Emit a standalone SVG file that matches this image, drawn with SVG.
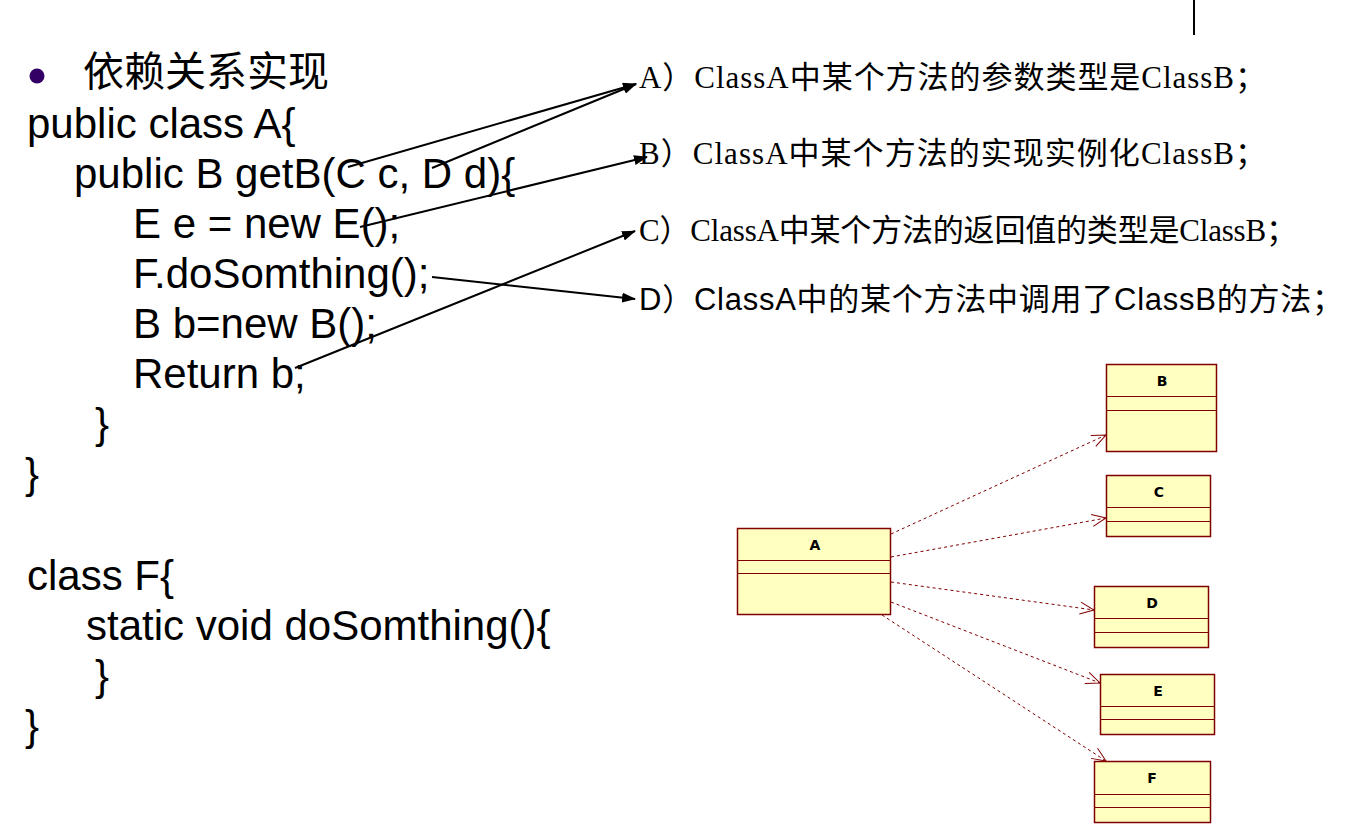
<svg xmlns="http://www.w3.org/2000/svg" width="1362" height="837" viewBox="0 0 1362 837">
<defs>
<style>
.code{font-family:"Liberation Sans",Arial,sans-serif;font-size:42px;fill:#000}
.title{font-family:"Noto Sans CJK SC",sans-serif;font-size:41px;fill:#000}
.note{font-family:"Liberation Serif","Noto Sans CJK SC",serif;font-size:31px;fill:#000}
.noteD{font-family:"Liberation Sans","Noto Sans CJK SC",sans-serif;font-size:31px;fill:#000}
.box{fill:#FFFFC0;stroke:#800000;stroke-width:1.5}
.div{stroke:#800000;stroke-width:1.2}
.lbl{font-family:"DejaVu Sans",Verdana,sans-serif;font-size:14px;font-weight:bold;fill:#000;text-anchor:middle}
.arrow{stroke:#000;stroke-width:2;fill:none;marker-end:url(#ah)}
.dep{stroke:#800000;stroke-width:1;stroke-dasharray:3 3;fill:none;marker-end:url(#open)}
</style>
<marker id="ah" markerUnits="userSpaceOnUse" markerWidth="14" markerHeight="10" refX="13" refY="5" orient="auto" viewBox="0 0 14 10">
<path d="M0,0 L14,5 L0,10 z" fill="#000"/>
</marker>
<marker id="open" markerUnits="userSpaceOnUse" markerWidth="18" markerHeight="16" refX="16" refY="8" orient="auto" viewBox="0 0 18 16">
<path d="M2,2 L16,8 L2,14" fill="none" stroke="#800000" stroke-width="1" stroke-dasharray="none"/>
</marker>
</defs>
<rect width="1362" height="837" fill="#fff"/>
<line x1="1194" y1="0" x2="1194" y2="35" stroke="#000" stroke-width="2"/>

<g id="code">
<circle cx="37" cy="76" r="7.5" fill="#330066"/>
<text class="title" x="83" y="86">依赖关系实现</text>
<text class="code" x="27" y="138">public class A{</text>
<text class="code" x="74" y="188">public B getB(C c, D d){</text>
<text class="code" x="133" y="238">E e = new E();</text>
<text class="code" x="133" y="288">F.doSomthing();</text>
<text class="code" x="133" y="338">B b=new B();</text>
<text class="code" x="133" y="388">Return b;</text>
<text class="code" x="95" y="438">}</text>
<text class="code" x="25" y="488">}</text>
<text class="code" x="27" y="590">class F{</text>
<text class="code" x="86" y="640">static void doSomthing(){</text>
<text class="code" x="95" y="690">}</text>
<text class="code" x="25" y="740">}</text>
</g>

<g id="notes">
<text class="note" x="639" y="88" textLength="627" lengthAdjust="spacing">A）ClassA中某个方法的参数类型是ClassB；</text>
<text class="note" x="639" y="164" textLength="627" lengthAdjust="spacing">B）ClassA中某个方法的实现实例化ClassB；</text>
<text class="note" x="639" y="241" textLength="658" lengthAdjust="spacing">C）ClassA中某个方法的返回值的类型是ClassB；</text>
<text class="noteD" x="639" y="310" textLength="704" lengthAdjust="spacing">D）ClassA中的某个方法中调用了ClassB的方法；</text>
</g>

<g id="connectors">
<line class="arrow" x1="348" y1="167" x2="636" y2="84"/>
<line class="arrow" x1="432" y1="168" x2="636" y2="84"/>
<line class="arrow" x1="360" y1="227" x2="647" y2="157"/>
<line class="arrow" x1="432" y1="277" x2="635" y2="299"/>
<line class="arrow" x1="295" y1="368" x2="635" y2="231"/>
<line class="dep" x1="891" y1="534" x2="1106" y2="435"/>
<line class="dep" x1="891" y1="557" x2="1106" y2="518"/>
<line class="dep" x1="891" y1="582" x2="1094" y2="610"/>
<line class="dep" x1="891" y1="602" x2="1100" y2="683"/>
<line class="dep" x1="882" y1="615" x2="1106" y2="761"/>
</g>

<g id="classA">
<rect class="box" x="737.5" y="528.5" width="153" height="86"/>
<line class="div" x1="737.5" y1="560.5" x2="890.5" y2="560.5"/>
<line class="div" x1="737.5" y1="573.5" x2="890.5" y2="573.5"/>
<text class="lbl" x="815" y="550">A</text>
</g>
<g id="classB">
<rect class="box" x="1106.5" y="364.5" width="110" height="87"/>
<line class="div" x1="1106.5" y1="396.5" x2="1216.5" y2="396.5"/>
<line class="div" x1="1106.5" y1="410.5" x2="1216.5" y2="410.5"/>
<text class="lbl" x="1162" y="386">B</text>
</g>
<g id="classC">
<rect class="box" x="1106.5" y="475.5" width="104" height="61"/>
<line class="div" x1="1106.5" y1="507.5" x2="1210.5" y2="507.5"/>
<line class="div" x1="1106.5" y1="521.5" x2="1210.5" y2="521.5"/>
<text class="lbl" x="1159" y="497">C</text>
</g>
<g id="classD">
<rect class="box" x="1094.5" y="586.5" width="114" height="61"/>
<line class="div" x1="1094.5" y1="618.5" x2="1208.5" y2="618.5"/>
<line class="div" x1="1094.5" y1="632.5" x2="1208.5" y2="632.5"/>
<text class="lbl" x="1152" y="608">D</text>
</g>
<g id="classE">
<rect class="box" x="1100.5" y="674.5" width="114" height="60"/>
<line class="div" x1="1100.5" y1="706.5" x2="1214.5" y2="706.5"/>
<line class="div" x1="1100.5" y1="719.5" x2="1214.5" y2="719.5"/>
<text class="lbl" x="1158" y="696">E</text>
</g>
<g id="classF">
<rect class="box" x="1094.5" y="761.5" width="116" height="61"/>
<line class="div" x1="1094.5" y1="794.5" x2="1210.5" y2="794.5"/>
<line class="div" x1="1094.5" y1="807.5" x2="1210.5" y2="807.5"/>
<text class="lbl" x="1152" y="783">F</text>
</g>
</svg>
